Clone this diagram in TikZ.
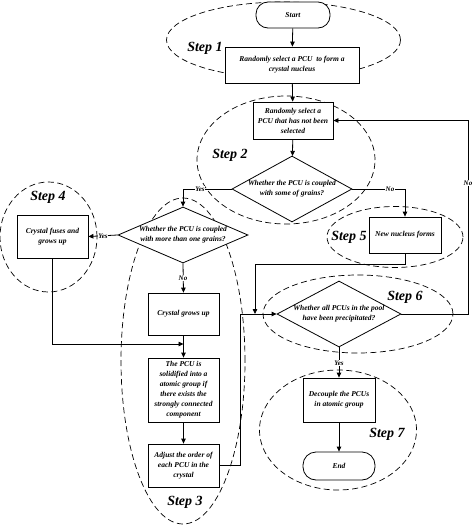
\documentclass[tikz,border=0pt]{standalone}
\usepackage{fontspec}
\setmainfont{Liberation Serif}
\usetikzlibrary{arrows.meta,shapes.geometric}
\tikzset{
  every node/.style={font=\bfseries\itshape},
  proc/.style={draw, line width=0.8pt, fill=white, rectangle, inner sep=0pt, align=center,
    font=\fontsize{7.5}{10}\selectfont\bfseries\itshape},
  term/.style={proc, rounded corners=12pt},
  dia/.style={draw, line width=0.8pt, fill=white, diamond, inner sep=0pt},
  diatext/.style={align=center, font=\fontsize{7.5}{10}\selectfont\bfseries\itshape},
  zone/.style={draw, dashed, dash pattern=on 6pt off 3.5pt, line width=0.7pt, ellipse, inner sep=0pt},
  steplbl/.style={font=\fontsize{14}{16}\selectfont\bfseries\itshape, inner sep=0pt},
  yn/.style={fill=white, inner sep=0.8pt, font=\fontsize{7}{8}\selectfont\bfseries\itshape},
  arr/.style={line width=0.8pt, -{Triangle[length=5pt,width=4.5pt]}},
  ln/.style={line width=0.8pt}
}
\begin{document}
\begin{tikzpicture}[x=1pt,y=-1pt]
\useasboundingbox[fill=white] (0,0) rectangle (474,525);
% dashed step zones
\node[zone, minimum width=234pt, minimum height=76pt] (e1) at (283.5,40) {};
\node[zone, minimum width=178pt, minimum height=128pt] (e2) at (286,160) {};
\node[zone, minimum width=124pt, minimum height=326pt] (e3) at (183,361) {};
\node[zone, minimum width=97pt, minimum height=110pt] (e4) at (48.5,237) {};
\node[zone, minimum width=136pt, minimum height=61pt] (e5) at (395,237) {};
\node[zone, minimum width=190pt, minimum height=78pt] (e6) at (358,314) {};
\node[zone, minimum width=157pt, minimum height=120pt] (e7) at (338,430) {};
% step labels
\node[steplbl] (s1) at (205,48) {Step 1};
\node[steplbl] (s2) at (230,155) {Step 2};
\node[steplbl] (s3) at (185,502) {Step 3};
\node[steplbl] (s4) at (48,197) {Step 4};
\node[steplbl] (s5) at (349,237) {Step 5};
\node[steplbl] (s6) at (405,297) {Step 6};
\node[steplbl] (s7) at (387,434) {Step 7};
% flow nodes
\node[term, minimum width=74pt, minimum height=26pt] (start) at (293,15) {Start};
\node[proc, minimum width=134pt, minimum height=36pt] (b1) at (292,65) {Randomly select a PCU\ \ to form a\\crystal nucleus};
\node[proc, minimum width=80pt, minimum height=37pt] (b2) at (293,120.5) {Randomly select a\\PCU that has not been\\selected};
\node[dia, minimum width=120pt, minimum height=66pt,
  label={[diatext]center:Whether the PCU is coupled\\with some of grains?}] (d1) at (292,189) {};
\node[dia, minimum width=130pt, minimum height=56pt,
  label={[diatext]center:Whether the PCU is coupled\\with more than one grains?}] (d2) at (183,235) {};
\node[proc, minimum width=71pt, minimum height=43pt] (b4) at (52.5,236.5) {Crystal fuses and\\grows up};
\node[proc, minimum width=71pt, minimum height=42pt] (b3a) at (183.5,314) {Crystal grows up};
\node[proc, minimum width=71pt, minimum height=64pt] (b3b) at (183.5,390) {The PCU is\\solidified into a\\atomic group if\\there exists the\\strongly connected\\component};
\node[proc, minimum width=71pt, minimum height=43pt] (b3c) at (183.5,465.5) {Adjust the order of\\each PCU in the\\crystal};
\node[proc, minimum width=72pt, minimum height=36pt] (b5) at (405,235) {New nucleus forms};
\node[dia, minimum width=124pt, minimum height=66pt,
  label={[diatext]center:Whether all PCUs in the pool\\have been precipitated?}] (d3) at (339,314) {};
\node[proc, minimum width=72pt, minimum height=44pt] (b7) at (339,400) {Decouple the PCUs\\in atomic group};
\node[term, minimum width=72pt, minimum height=28pt, rounded corners=13pt] (end) at (339,466) {End};
% junction coordinates
\coordinate (j1) at (183.5,344);
\coordinate (j2) at (255,314);
\coordinate (j3) at (240,314);
\coordinate (j4) at (468,120.5);
% connectors
\draw[arr] (start) -- (b1);
\draw[arr] (b1) -- (b2);
\draw[arr] (b2) -- (d1);
\draw[arr] (d1.east) -| (b5.north);
\draw[arr] (d1.west) -| (d2.north);
\draw[arr] (d2.west) -- (b4.east);
\draw[arr] (d2.south) -- (b3a.north);
\draw[arr] (b3a) -- (b3b);
\draw[arr] (b4.south) |- (j1);
\draw[arr] (b3b) -- (b3c);
\draw[ln] (b3c.east) -| (j3);
\draw[arr] (j3) -- (d3.west);
\draw[arr] (b5.south) -- ++(0,11) -| (j2);
\draw[arr] (d3.south) -- (b7.north);
\draw[arr] (b7) -- (end);
\draw[arr] (d3.east) -| (j4) -- (b2.east);
% branch labels
\node[yn] (n1) at (390,189) {No};
\node[yn] (y1) at (200,189) {Yes};
\node[yn] (y2) at (103,236) {Yes};
\node[yn] (n2) at (183,278) {No};
\node[yn] (y3) at (339,363) {Yes};
\node[yn] (n3) at (468,183) {No};
\end{tikzpicture}
\end{document}
